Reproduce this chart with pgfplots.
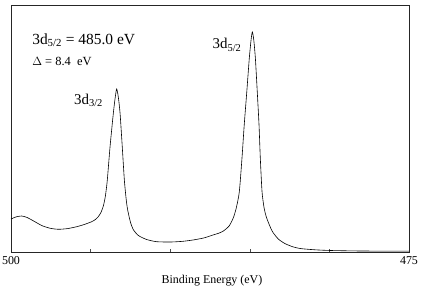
\documentclass[border=0pt]{standalone}
\usepackage{fontspec}
\setmainfont{Liberation Serif}
\usepackage{pgfplots}
\pgfplotsset{compat=1.18}
\begin{document}
\begin{tikzpicture}
\begin{axis}[
  name=ax,
  scale only axis,
  width=398bp, height=247bp,
  x dir=reverse,
  xmin=475, xmax=500,
  ymin=0, ymax=247,
  xtick={475,480,485,490,495,500},
  xticklabels={475,,,,,500},
  xtick pos=bottom,
  tick align=inside,
  major tick length=3bp,
  ytick=\empty,
  axis line style={line width=0.6pt, black!85},
  every tick/.style={black!70, line width=0.5pt},
  tick label style={font=\fontsize{12}{14}\selectfont},
  /pgf/number format/assume math mode=true,
  xticklabel style={yshift=-1bp},
  xlabel={Binding Energy (eV)},
  xlabel style={font=\fontsize{12}{14}\selectfont, at={(axis description cs:0.505,0)}, anchor=base, yshift=-31bp},
]
\addplot[black, line width=0.6pt, smooth, tension=0.4] coordinates {
(500.00,33) (499.66,35.2) (499.33,36) (499.00,34.6) (498.60,31.2) (498.25,28) (497.97,25.8)
(497.50,23.6) (497.03,22.7) (496.45,23.4) (495.87,25.3) (495.40,27.5)
(494.93,30.3) (494.70,32.5) (494.52,35.3) (494.35,39.5) (494.20,46) (494.07,56) (493.95,72) (493.78,105) (493.57,139)
(493.45,155) (493.36,163) (493.26,155) (493.15,139) (493.01,105) (492.88,72)
(492.76,52) (492.67,42) (492.50,30) (492.32,22.5) (492.00,16.5) (491.48,12.5) (490.85,10.3) (489.95,10) (489.20,10.7) (488.57,12)
(487.90,14) (487.31,17) (486.95,18.8) (486.66,21) (486.30,26) (486.04,34) (485.85,44) (485.66,60) (485.49,94) (485.35,127)
(485.19,160) (485.03,194) (484.92,212) (484.84,220) (484.75,212) (484.65,194)
(484.53,160) (484.42,127) (484.34,94) (484.23,60) (484.10,44) (483.94,34) (483.60,21) (483.21,13)
(482.80,8.5) (482.30,5.2) (481.80,3.4) (480.90,2.2) (479.92,1.5) (478.00,1) (475.00,0.8)
};
\node[anchor=base west, inner sep=0pt, font=\fontsize{15.5}{18}\selectfont] at (axis description cs:0.053,0.842) {3d\textsubscript{5/2} = 485.0 eV};
\node[anchor=base west, inner sep=0pt, font=\fontsize{12.5}{15}\selectfont] at (axis description cs:0.053,0.757) {$\Delta$ = 8.4\ \ eV};
\node[anchor=base west, inner sep=0pt, font=\fontsize{15}{18}\selectfont] at (axis description cs:0.158,0.599) {3d\textsubscript{3/2}};
\node[anchor=base west, inner sep=0pt, font=\fontsize{15}{18}\selectfont] at (axis description cs:0.506,0.822) {3d\textsubscript{5/2}};
\end{axis}
\pgfresetboundingbox
\path (ax.south west) ++(-11bp,-37bp) coordinate (bl);
\path (ax.north east) ++(19bp,5bp) coordinate (tr);
\path[use as bounding box] (bl) rectangle (tr);
\end{tikzpicture}
\end{document}
